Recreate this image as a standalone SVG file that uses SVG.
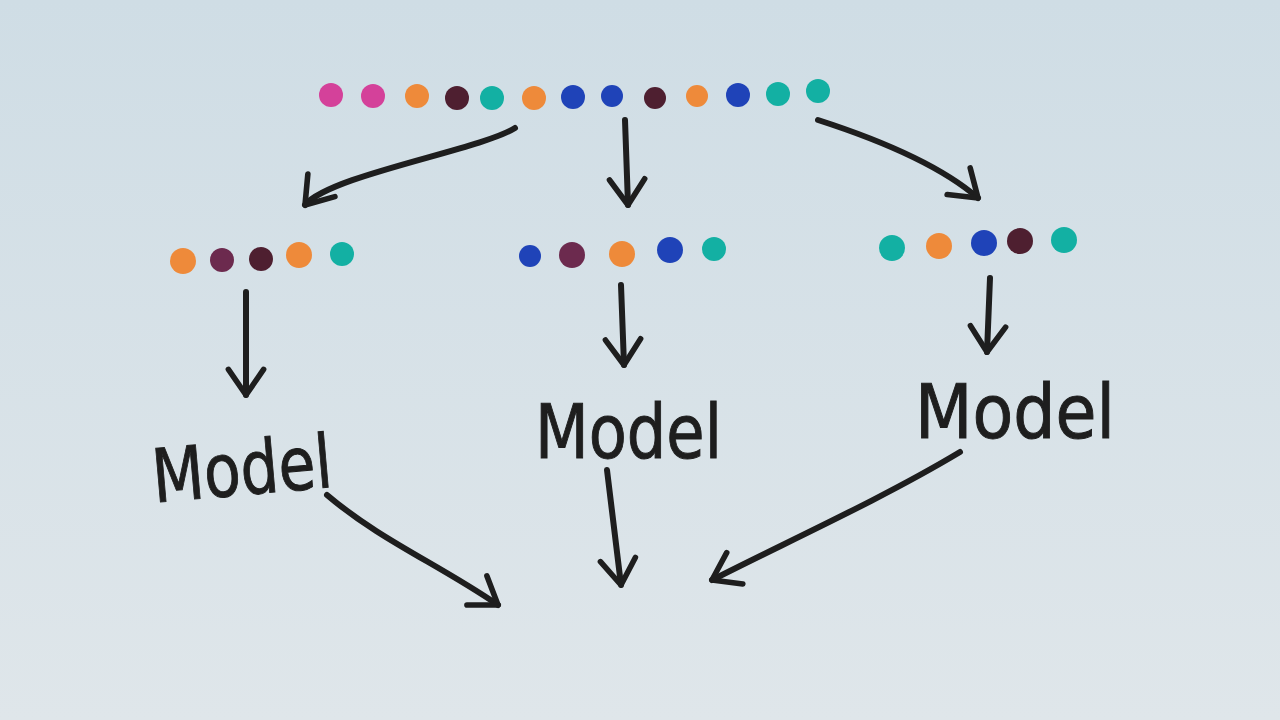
<svg xmlns="http://www.w3.org/2000/svg" width="1280" height="720" viewBox="0 0 1280 720">
<defs>
<linearGradient id="bg" x1="0" y1="0" x2="0" y2="1"><stop offset="0" stop-color="#cfdde5"/><stop offset="1" stop-color="#dfe6ea"/></linearGradient>
<marker id="ah" viewBox="0 0 20 20" refX="16" refY="10" markerWidth="16" markerHeight="16" orient="auto" markerUnits="userSpaceOnUse" overflow="visible">
<path d="M-16,-12 L16,10 L-16,32" fill="none" stroke="#1e1e1e" stroke-width="7" stroke-linecap="round" stroke-linejoin="round"/>
</marker>
<style>
.a{fill:none;stroke:#1e1e1e;stroke-width:6;stroke-linecap:round;marker-end:url(#ah)}
.m{font-family:"DejaVu Sans",sans-serif;font-size:74px;fill:#1e1e1e;stroke:#1e1e1e;stroke-width:1}
.pk{fill:#d4419a}.or{fill:#ee8a3a}.dp{fill:#4e1f30}.tl{fill:#13b0a3}.bl{fill:#1f43b8}.mr{fill:#6c2a4e}
</style>
</defs>
<rect width="1280" height="720" fill="url(#bg)"/>
<g id="top-row">
<circle cx="331" cy="95" r="12" class="pk"/><circle cx="373" cy="96" r="12" class="pk"/><circle cx="417" cy="96" r="12" class="or"/><circle cx="457" cy="98" r="12" class="dp"/><circle cx="492" cy="98" r="12" class="tl"/><circle cx="534" cy="98" r="12" class="or"/><circle cx="573" cy="97" r="12" class="bl"/><circle cx="612" cy="96" r="11" class="bl"/><circle cx="655" cy="98" r="11" class="dp"/><circle cx="697" cy="96" r="11" class="or"/><circle cx="738" cy="95" r="12" class="bl"/><circle cx="778" cy="94" r="12" class="tl"/><circle cx="818" cy="91" r="12" class="tl"/>
</g>
<g id="left-row">
<circle cx="183" cy="261" r="13" class="or"/><circle cx="222" cy="260" r="12" class="mr"/><circle cx="261" cy="259" r="12" class="dp"/><circle cx="299" cy="255" r="13" class="or"/><circle cx="342" cy="254" r="12" class="tl"/>
</g>
<g id="middle-row">
<circle cx="530" cy="256" r="11" class="bl"/><circle cx="572" cy="255" r="13" class="mr"/><circle cx="622" cy="254" r="13" class="or"/><circle cx="670" cy="250" r="13" class="bl"/><circle cx="714" cy="249" r="12" class="tl"/>
</g>
<g id="right-row">
<circle cx="892" cy="248" r="13" class="tl"/><circle cx="939" cy="246" r="13" class="or"/><circle cx="984" cy="243" r="13" class="bl"/><circle cx="1020" cy="241" r="13" class="dp"/><circle cx="1064" cy="240" r="13" class="tl"/>
</g>
<g id="model-left"><text class="m" x="152" y="495" textLength="180" lengthAdjust="spacingAndGlyphs" transform="rotate(-5 240 470)">Model</text></g>
<g id="model-middle"><text class="m" x="535" y="458" textLength="187" lengthAdjust="spacingAndGlyphs">Model</text></g>
<g id="model-right"><text class="m" x="915" y="438" textLength="200" lengthAdjust="spacingAndGlyphs">Model</text></g>
<g id="connectors">
<path class="a" d="M515,128 C480,150 330,175 305,205"/>
<path class="a" d="M625,120 L628,205"/>
<path class="a" d="M818,120 C880,140 940,165 978,198"/>
<path class="a" d="M246,292 L246,395"/>
<path class="a" d="M621,285 L624,365"/>
<path class="a" d="M990,278 L987,352"/>
<path class="a" d="M327,495 C380,540 440,565 498,605"/>
<path class="a" d="M607,470 L621,585"/>
<path class="a" d="M960,452 C880,500 780,545 712,580"/>
</g>
</svg>
